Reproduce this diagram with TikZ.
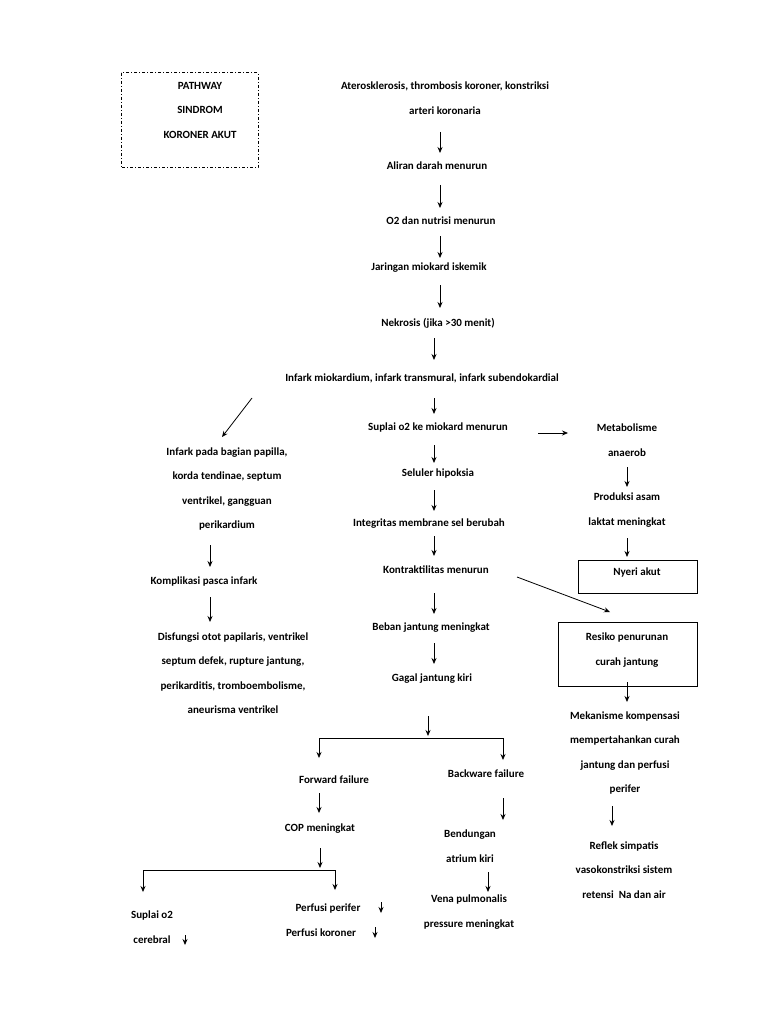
\documentclass[tikz,border=0pt]{standalone}
\usepackage{fontspec}
\setmainfont{Carlito}
\usetikzlibrary{arrows.meta}
\begin{document}
\begin{tikzpicture}[x=1pt,y=-1pt,
  t/.style={font=\bfseries\fontsize{11}{24.5}\selectfont,align=center,inner sep=0pt},
  a/.style={-{Stealth[length=6pt,width=5pt]},line width=0.8pt},
  ln/.style={line width=0.8pt}]
\useasboundingbox (0,0) rectangle (768,1024);
\fill[white] (0,0) rectangle (768,1024);
\draw[line width=1pt,dash dot] (121,73) rectangle (258,168);
\node[t] (pw) at (200,110) {PATHWAY\\SINDROM\\KORONER AKUT};
\node[t] (t1) at (445,98) {Aterosklerosis, thrombosis koroner, konstriksi\\arteri koronaria};
\node[t] (t2) at (437,166) {Aliran darah menurun};
\node[t] (t3) at (441,221) {O2 dan nutrisi menurun};
\node[t] (t4) at (429,268) {Jaringan miokard iskemik};
\node[t] (t5) at (438,323) {Nekrosis (jika >30 menit)};
\node[t] (t6) at (422,378) {Infark miokardium, infark transmural, infark subendokardial};
\draw[a] (440,132)--(440,153);
\draw[a] (440,185)--(440,208);
\draw[a] (440,236)--(440,258);
\draw[a] (440,285)--(440,308);
\draw[a] (434,338)--(434,360);
\draw[a] (252,398)--(222,437);
\draw[a] (434,398)--(434,414);
\node[t] (l1) at (227,489) {Infark pada bagian papilla,\\korda tendinae, septum\\ventrikel, gangguan\\perikardium};
\draw[a] (210,545)--(210,567);
\node[t] (l2) at (204,581) {Komplikasi pasca infark};
\draw[a] (210,597)--(210,622);
\node[t] (l3) at (233,673) {Disfungsi otot papilaris, ventrikel\\septum defek, rupture jantung,\\perikarditis, tromboembolisme,\\aneurisma ventrikel};
\node[t] (m1) at (438,428) {Suplai o2 ke miokard menurun};
\draw[a] (538,433)--(568,433);
\node[t] (r1) at (627,440) {Metabolisme\\anaerob};
\draw[a] (434,445)--(434,463);
\node[t] (m2) at (438,474) {Seluler hipoksia};
\draw[a] (434,490)--(434,511);
\node[t] (m3) at (429,524) {Integritas membrane sel berubah};
\draw[a] (434,536)--(434,556);
\node[t] (m4) at (436,570) {Kontraktilitas menurun};
\draw[a] (517,577)--(610,612);
\draw[a] (434,593)--(434,614);
\node[t] (m5) at (431,628) {Beban jantung meningkat};
\draw[a] (434,643)--(434,664);
\node[t] (m6) at (432,679) {Gagal jantung kiri};
\draw[a] (627,467)--(627,487);
\node[t] (r2) at (627,510) {Produksi asam\\laktat meningkat};
\draw[a] (627,538)--(627,557);
\draw[ln] (578,560) rectangle (697,593);
\node[t] (r3) at (637,572) {Nyeri akut};
\draw[ln] (558,622) rectangle (697,686);
\node[t] (r4) at (627,650) {Resiko penurunan\\curah jantung};
\draw[a] (627,682)--(627,702);
\node[t] (r5) at (625,753) {Mekanisme kompensasi\\mempertahankan curah\\jantung dan perfusi\\perifer};
\draw[a] (612,806)--(612,826);
\node[t] (r6) at (624,870) {Reflek simpatis\\vasokonstriksi sistem\\retensi~ Na dan air};
\draw[a] (428,716)--(428,736);
\draw[ln] (319,738)--(503,738);
\draw[a] (319,738)--(319,758);
\draw[a] (503,738)--(503,760);
\node[t] (f1) at (334,780) {Forward failure};
\node[t] (b1) at (486,774) {Backware failure};
\draw[a] (319,793)--(319,813);
\node[t] (f2) at (320,829) {COP meningkat};
\draw[a] (503,798)--(503,820);
\node[t] (b2) at (470,846) {Bendungan\\atrium kiri};
\draw[a] (320,848)--(320,868);
\draw[ln] (143,870)--(335,870);
\draw[a] (143,870)--(143,892);
\draw[a] (335,870)--(335,890);
\draw[a] (488,872)--(488,892);
\node[t] (b3) at (469,912) {Vena pulmonalis\\pressure meningkat};
\node[t] (c1) at (152,927) {Suplai o2\\cerebral};
\draw[a] (185,935)--(185,945);
\node[t] (p1) at (328,908) {Perfusi perifer};
\draw[a] (381,902)--(381,913);
\node[t] (p2) at (321,933) {Perfusi koroner};
\draw[a] (375,927)--(375,938);
\end{tikzpicture}
\end{document}
